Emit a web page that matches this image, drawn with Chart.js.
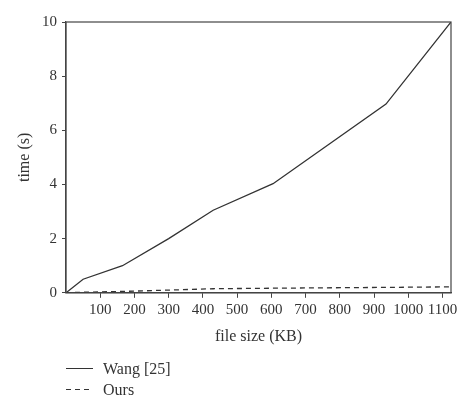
<!DOCTYPE html>
<html>
<head>
<meta charset="utf-8">
<script src="https://cdn.jsdelivr.net/npm/chart.js@4/dist/chart.umd.min.js"></script>
<style>
  html, body { margin: 0; padding: 0; background: #fff; }
  #wrap { position: relative; width: 474px; height: 412px; }
  #legend { position: absolute; left: 66px; top: 358px; font-family: "Liberation Serif", serif; font-size: 16px; color: #333; }
  .item { display: flex; align-items: center; height: 21px; }
  .swatch { width: 27px; height: 0; margin-right: 10px; border-top: 1.3px solid #333; }
  .swatch.dashed { border-top: none; height: 1.3px; background: repeating-linear-gradient(90deg, #333 0 5px, transparent 5px 9px); }
</style>
</head>
<body>
<div id="wrap">
  <canvas id="chart" width="474" height="412"></canvas>
  <div id="legend">
    <div class="item"><span class="swatch"></span>Wang [25]</div>
    <div class="item"><span class="swatch dashed"></span>Ours</div>
  </div>
</div>
<script>
// Data
const fileSizes = [0, 50, 165, 300, 430, 605, 935, 1125];
const wangTimes = [0, 0.5, 1.0, 2.0, 3.05, 4.03, 6.97, 10.0];
const oursTimes = [0, 0.02, 0.05, 0.1, 0.15, 0.17, 0.2, 0.22];
const xTicks = [100, 200, 300, 400, 500, 600, 700, 800, 900, 1000, 1100];
const yTicks = [0, 2, 4, 6, 8, 10];

const INK = '#333';
const FONT = 'Liberation Serif';

// Draw the top and right edges of the plot box
const boxPlugin = {
  id: 'box',
  afterDraw(chart) {
    const { ctx, chartArea: a } = chart;
    ctx.save();
    ctx.strokeStyle = '#444';
    ctx.lineWidth = 1.2;
    ctx.strokeRect(a.left, a.top, a.right - a.left, a.bottom - a.top);
    ctx.restore();
  }
};

new Chart(document.getElementById('chart'), {
  type: 'line',
  data: {
    datasets: [
      {
        label: 'Wang [25]',
        data: fileSizes.map((x, i) => ({ x, y: wangTimes[i] })),
        borderColor: INK,
        borderWidth: 1.3,
        pointRadius: 0,
        tension: 0
      },
      {
        label: 'Ours',
        data: fileSizes.map((x, i) => ({ x, y: oursTimes[i] })),
        borderColor: INK,
        borderWidth: 1.3,
        borderDash: [5, 4],
        pointRadius: 0,
        tension: 0
      }
    ]
  },
  options: {
    responsive: false,
    animation: false,
    layout: { padding: { left: 0, right: 23, top: 22, bottom: 66 } },
    plugins: { legend: { display: false }, tooltip: { enabled: false } },
    scales: {
      x: {
        type: 'linear',
        min: 0,
        max: 1125,
        afterBuildTicks: s => { s.ticks = xTicks.map(v => ({ value: v })); },
        grid: { drawOnChartArea: false, drawTicks: true, tickLength: 5, color: '#444' },
        border: { color: '#444', width: 1.2 },
        ticks: { color: INK, font: { family: FONT, size: 15 }, padding: 3, maxRotation: 0, autoSkip: false, callback: v => String(v) },
        title: { display: true, text: 'file size (KB)', color: INK, font: { family: FONT, size: 16 }, padding: { top: 5, bottom: 0 } }
      },
      y: {
        min: 0,
        max: 10,
        afterBuildTicks: s => { s.ticks = yTicks.map(v => ({ value: v })); },
        afterFit: s => { s.width = 66; },
        grid: { drawOnChartArea: false, drawTicks: true, tickLength: 4, color: '#444' },
        border: { color: '#444', width: 1.2 },
        ticks: { color: INK, font: { family: FONT, size: 15 }, padding: 5, callback: v => String(v) },
        title: { display: true, text: 'time (s)', color: INK, font: { family: FONT, size: 16 }, padding: { top: 15, bottom: 0 } }
      }
    }
  },
  plugins: [boxPlugin]
});
</script>
</body>
</html>
